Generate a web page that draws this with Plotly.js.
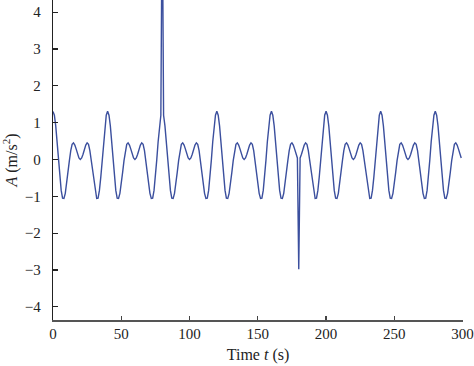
<!DOCTYPE html>
<html>
<head>
<meta charset="utf-8">
<script src="https://cdn.plot.ly/plotly-3.0.1.min.js"></script>
<style>
html,body{margin:0;padding:0;background:#fff;}
#chart{width:474px;height:366px;}
</style>
</head>
<body>
<div id="chart"></div>
<script>
// Sampling step of the recorded signal (s)
const sampleStep = 1;
// Acceleration A (m/s^2), one value per second, t = 0 ... 299 s
const accel = [
  // t = 0..39
  1.30,1.20,0.91,0.48,-0.01,-0.48,-0.84,-1.05,-1.06,-0.92,-0.67,-0.35,-0.03,0.24,0.41,0.45,0.39,0.28,0.14,0.04,
  0.00,0.04,0.14,0.28,0.39,0.45,0.41,0.24,-0.03,-0.35,-0.67,-0.92,-1.06,-1.05,-0.84,-0.48,-0.01,0.48,0.91,1.20,
  // t = 40..79
  1.31,1.20,0.91,0.48,-0.01,-0.48,-0.84,-1.05,-1.06,-0.92,-0.67,-0.35,-0.03,0.24,0.41,0.45,0.39,0.28,0.14,0.04,
  0.00,0.04,0.14,0.28,0.39,0.45,0.41,0.24,-0.03,-0.35,-0.67,-0.92,-1.06,-1.05,-0.84,-0.48,-0.01,0.48,0.91,1.20,
  // t = 80..119 (impulse at t = 80)
  7.20,1.20,0.91,0.48,-0.01,-0.48,-0.84,-1.05,-1.06,-0.92,-0.67,-0.35,-0.03,0.24,0.41,0.45,0.39,0.28,0.14,0.04,
  0.00,0.04,0.14,0.28,0.39,0.45,0.41,0.24,-0.03,-0.35,-0.67,-0.92,-1.06,-1.05,-0.84,-0.48,-0.01,0.48,0.91,1.20,
  // t = 120..159
  1.31,1.20,0.91,0.48,-0.01,-0.48,-0.84,-1.05,-1.06,-0.92,-0.67,-0.35,-0.03,0.24,0.41,0.45,0.39,0.28,0.14,0.04,
  0.00,0.04,0.14,0.28,0.39,0.45,0.41,0.24,-0.03,-0.35,-0.67,-0.92,-1.06,-1.05,-0.84,-0.48,-0.01,0.48,0.91,1.20,
  // t = 160..199 (impulse at t = 180)
  1.31,1.20,0.91,0.48,-0.01,-0.48,-0.84,-1.05,-1.06,-0.92,-0.67,-0.35,-0.03,0.24,0.41,0.45,0.39,0.28,0.14,0.04,
  -2.98,0.04,0.14,0.28,0.39,0.45,0.41,0.24,-0.03,-0.35,-0.67,-0.92,-1.06,-1.05,-0.84,-0.48,-0.01,0.48,0.91,1.20,
  // t = 200..239
  1.31,1.20,0.91,0.48,-0.01,-0.48,-0.84,-1.05,-1.06,-0.92,-0.67,-0.35,-0.03,0.24,0.41,0.45,0.39,0.28,0.14,0.04,
  0.00,0.04,0.14,0.28,0.39,0.45,0.41,0.24,-0.03,-0.35,-0.67,-0.92,-1.06,-1.05,-0.84,-0.48,-0.01,0.48,0.91,1.20,
  // t = 240..279
  1.31,1.20,0.91,0.48,-0.01,-0.48,-0.84,-1.05,-1.06,-0.92,-0.67,-0.35,-0.03,0.24,0.41,0.45,0.39,0.28,0.14,0.04,
  0.00,0.04,0.14,0.28,0.39,0.45,0.41,0.24,-0.03,-0.35,-0.67,-0.92,-1.06,-1.05,-0.84,-0.48,-0.01,0.48,0.91,1.20,
  // t = 280..299
  1.31,1.20,0.91,0.48,-0.01,-0.48,-0.84,-1.05,-1.06,-0.92,-0.67,-0.35,-0.03,0.24,0.41,0.45,0.39,0.28,0.14,0.04
];
const xTicks = [0, 50, 100, 150, 200, 250, 300];
const yTicks = [-4, -3, -2, -1, 0, 1, 2, 3, 4];

const time = accel.map((_, i) => i * sampleStep);

const trace = {
  x: time,
  y: accel,
  type: 'scatter',
  mode: 'lines',
  line: {color: '#3b4f9e', width: 1.4},
  hoverinfo: 'skip'
};

const font = {family: '"Liberation Serif", "DejaVu Serif", serif', size: 15, color: '#222'};

const layout = {
  width: 474,
  height: 366,
  margin: {l: 53, r: 11, t: 0, b: 46, pad: 0},
  paper_bgcolor: '#fff',
  plot_bgcolor: '#fff',
  showlegend: false,
  font: font,
  xaxis: {
    range: [0, 300.3],
    tickvals: xTicks,
    ticktext: xTicks.map(String),
    ticks: 'inside',
    ticklen: 4,
    tickwidth: 1.2,
    tickcolor: '#444',
    showline: true,
    linecolor: '#555',
    linewidth: 1.6,
    showgrid: false,
    zeroline: false,
    tickfont: font,
    ticklabelstandoff: -1,
    ticklabeloverflow: 'allow',
    title: {text: 'Time <i>t</i> (s)', font: {family: font.family, size: 16, color: '#222'}, standoff: 8}
  },
  yaxis: {
    range: [-4.36, 4.33],
    tickvals: yTicks,
    ticks: 'inside',
    ticklen: 5,
    tickwidth: 1.2,
    tickcolor: '#222',
    showline: true,
    linecolor: '#222',
    linewidth: 1.3,
    showgrid: false,
    zeroline: false,
    tickfont: font,
    ticklabelstandoff: 8,
    title: {text: '<i>A</i> (m/s<sup>2</sup>)', font: {family: font.family, size: 16, color: '#222'}, standoff: 6}
  }
};

Plotly.newPlot('chart', [trace], layout, {staticPlot: true, displayModeBar: false});
</script>
</body>
</html>
